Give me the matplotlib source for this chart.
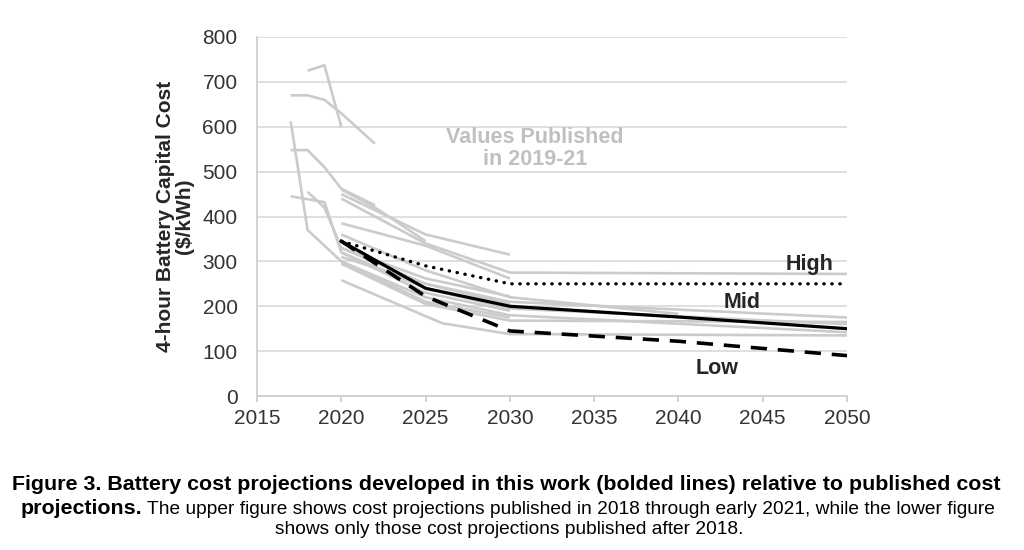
import matplotlib
matplotlib.use("Agg")
import matplotlib.pyplot as plt
from matplotlib import font_manager

# ---------------- data ----------------
years_mid = [2020, 2025, 2030, 2040, 2050]
mid_vals = [345, 240, 200, 176, 150]
years_high = [2020, 2025, 2030, 2050]
high_vals = [345, 290, 250, 250]
years_low = [2020, 2025, 2030, 2040, 2050]
low_vals = [345, 222, 145, 122, 90]

gray_years = [
    [2018, 2019, 2020],
    [2017, 2018, 2019, 2020, 2022],
    [2017, 2018, 2020, 2025, 2030],
    [2017, 2018, 2019, 2020, 2022],
    [2017, 2019, 2020, 2025, 2030],
    [2018, 2019, 2020, 2025, 2030, 2050],
    [2020, 2025, 2030],
    [2020, 2025, 2030, 2050],
    [2020, 2025, 2030],
    [2020, 2025, 2030, 2040],
    [2020, 2025, 2030, 2050],
    [2020, 2025, 2030, 2050],
    [2020, 2026, 2030, 2050],
    [2020, 2025, 2030],
    [2020, 2022, 2025],
    [2020, 2025, 2030],
    [2020, 2025, 2030, 2050],
]
gray_vals = [
    [725, 737, 600],
    [670, 670, 660, 630, 562],
    [612, 370, 300, 210, 175],
    [548, 548, 510, 462, 425],
    [445, 432, 320, 230, 190],
    [455, 420, 330, 250, 210, 175],
    [450, 360, 315],
    [440, 340, 275, 272],
    [385, 335, 262],
    [360, 280, 220, 183],
    [320, 240, 195, 160],
    [300, 220, 180, 142],
    [258, 162, 138, 135],
    [310, 250, 205],
    [460, 420, 345],
    [330, 262, 222],
    [295, 205, 168, 165],
]

x_ticks = [2015, 2020, 2025, 2030, 2035, 2040, 2045, 2050]
y_ticks = [0, 100, 200, 300, 400, 500, 600, 700, 800]

# ---------------- fonts ----------------
avail = {f.name for f in font_manager.fontManager.ttflist}
narrow = "Liberation Sans Narrow" if "Liberation Sans Narrow" in avail else "Liberation Sans"
plt.rcParams['font.family'] = ['Liberation Sans', 'DejaVu Sans']

fig = plt.figure(figsize=(10.24, 5.5), dpi=100)
ax = fig.add_axes([257/1024, 1-396/550, 590/1024, 359/550])

gcol = '#cbcbcb'
for yr, v in zip(gray_years, gray_vals):
    ax.plot(yr, v, color=gcol, lw=1.9, solid_capstyle='butt', zorder=2)

ax.plot(years_high, high_vals, color='black', lw=2.4, linestyle=(0, (0.1, 2.3)),
        dash_capstyle='round', zorder=4)
ax.plot(years_mid, mid_vals, color='black', lw=2.3, zorder=4)
ax.plot(years_low, low_vals, color='black', lw=2.6, linestyle=(0, (4.5, 3)),
        dash_capstyle='butt', zorder=4)

ax.set_xlim(2015, 2050)
ax.set_ylim(0, 800)
ax.set_xticks(x_ticks)
ax.set_yticks(y_ticks)
ax.tick_params(axis='both', labelsize=15, labelcolor='#333333')
ax.tick_params(axis='y', length=0, pad=14)
ax.tick_params(axis='x', length=4, width=1.2, color='#c8c8c8', direction='out', pad=5)
ax.grid(axis='y', color='#d9d9d9', lw=1.2, zorder=0)
ax.set_axisbelow(True)
for s in ['top', 'right']:
    ax.spines[s].set_visible(False)
for s in ['left', 'bottom']:
    ax.spines[s].set_color('#cfcfcf')
    ax.spines[s].set_linewidth(1.3)

ax.set_ylabel('4-hour Battery Capital Cost\n($/kWh)', fontsize=15, fontweight='bold',
              color='#262626', labelpad=6, linespacing=1.0)

ax.text(2031.5, 551, 'Values Published\nin 2019-21', ha='center', va='center',
        fontsize=15.5, fontweight='bold', color='#c0c0c0', linespacing=1.05)
ax.text(2049.2, 294, 'High', ha='right', va='center', fontsize=15.5, fontweight='bold', color='#262626')
ax.text(2043.8, 209, 'Mid', ha='center', va='center', fontsize=15.5, fontweight='bold', color='#262626')
ax.text(2042.3, 62, 'Low', ha='center', va='center', fontsize=15.5, fontweight='bold', color='#262626')

# ---------------- caption ----------------
cap_b = 15.4
cap_n = 13.8
fig.text(0.4945, 1-485/550, 'Figure 3. Battery cost projections developed in this work (bolded lines) relative to published cost',
         ha='center', va='center', fontsize=cap_b, fontweight='bold', family=narrow, color='black')

renderer = fig.canvas.get_renderer()
t1 = fig.text(0, 1-509/550, 'projections.', ha='left', va='center', fontsize=cap_b,
              fontweight='bold', family=narrow, color='black')
t2 = fig.text(0, 1-509/550, ' The upper figure shows cost projections published in 2018 through early 2021, while the lower figure',
              ha='left', va='center', fontsize=cap_n, family=narrow, color='black')
w1 = t1.get_window_extent(renderer).width
w2 = t2.get_window_extent(renderer).width
start = (508 - (w1 + w2) / 2) / 1024
t1.set_x(start)
t2.set_x(start + w1 / 1024)

fig.text(0.4975, 1-529/550, 'shows only those cost projections published after 2018.', ha='center', va='center',
         fontsize=cap_n, family=narrow, color='black')

fig.savefig('out.png', dpi=100)
